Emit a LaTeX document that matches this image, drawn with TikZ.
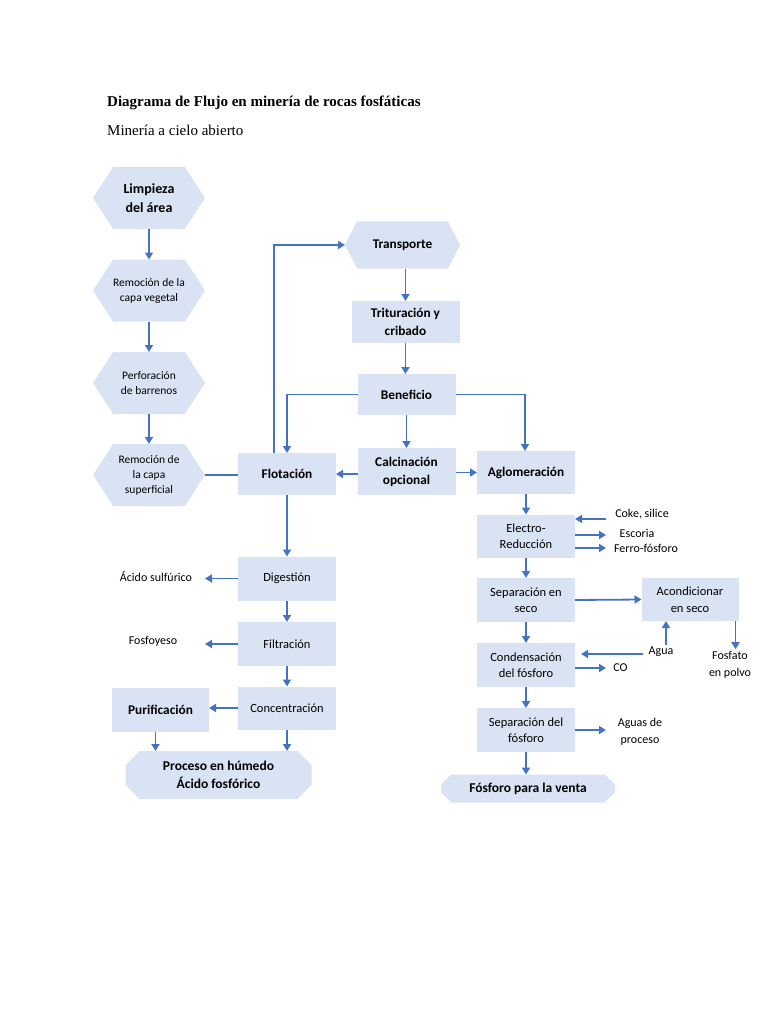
\documentclass[tikz,border=0pt]{standalone}
\usepackage{fontspec}
\usepackage{tikz}
\usetikzlibrary{arrows.meta,shapes.symbols,shapes.misc}
\setmainfont{Carlito}
\newfontfamily\titulofont{Liberation Serif}
\definecolor{cajaazul}{HTML}{DAE3F3}
\definecolor{flechaazul}{HTML}{4472C4}

\begin{document}
\begin{tikzpicture}[x=1pt,y=-1pt,
  hexa/.style={shape=signal, signal to=west and east, signal pointer angle=114, fill=cajaazul, minimum width=112pt, minimum height=62pt, inner sep=0pt, outer sep=0pt, align=center, font=\fontsize{11.5}{15}\selectfont},
  caja/.style={rectangle, fill=cajaazul, minimum width=98pt, minimum height=43pt, inner sep=2pt, outer sep=0pt, align=center, font=\fontsize{12.5}{16.5}\selectfont},
  final/.style={chamfered rectangle, fill=cajaazul, inner sep=2pt, outer sep=0pt, align=center, font=\bfseries\fontsize{13.5}{18}\selectfont},
  negrita/.style={font=\bfseries\fontsize{13.3}{18}\selectfont},
  etiqueta/.style={align=center, inner sep=2pt, font=\fontsize{12}{17}\selectfont},
  flecha/.style={draw=flechaazul, line width=1.8pt, -{Triangle[length=7pt,width=8pt]}},
  linea/.style={draw=flechaazul, line width=1.8pt}]
\useasboundingbox (0,0) rectangle (768,1024);

\node[anchor=base west, inner sep=0pt] (titulo) at (107,106.5) {\titulofont\bfseries\fontsize{15}{18}\selectfont Diagrama de Flujo en minería de rocas fosfáticas};
\node[anchor=base west, inner sep=0pt] (subtitulo) at (107,135.5) {\titulofont\fontsize{15}{18}\selectfont Minería a cielo abierto};

\node[hexa, font=\bfseries\fontsize{14}{18.5}\selectfont] (limpieza) at (149,198) {Limpieza\\del área};
\node[hexa] (remocion) at (149,290.5) {Remoción de la\\capa vegetal};
\node[hexa] (perforacion) at (149,383) {Perforación\\de barrenos};
\node[hexa] (superficial) at (149,475) {Remoción de\\la capa\\superficial};
\node[hexa, negrita, minimum width=115pt, minimum height=47pt, signal pointer angle=126] (transporte) at (402.5,245) {Transporte};

\node[caja, negrita, minimum width=108pt, minimum height=42pt] (trituracion) at (405.5,322) {Trituración y\\cribado};
\node[caja, negrita, minimum height=41pt] (beneficio) at (406.5,394.5) {Beneficio};
\node[caja, negrita, minimum height=47pt] (calcinacion) at (406.5,471.5) {Calcinación\\opcional};
\node[caja, negrita, minimum height=42pt] (flotacion) at (287,474) {Flotación};
\node[caja, negrita] (aglomeracion) at (526,472.5) {Aglomeración};
\node[caja] (electro) at (526,536) {Electro-\\Reducción};
\node[caja, minimum height=44pt] (sepseco) at (526,600) {Separación en\\seco};
\node[caja, minimum width=97pt] (acond) at (690,599.5) {Acondicionar\\en seco};
\node[caja, minimum height=44pt] (condensacion) at (526,665) {Condensación\\del fósforo};
\node[caja, minimum height=44pt] (sepfosforo) at (526,730) {Separación del\\fósforo};
\node[final, minimum width=174pt, minimum height=28pt, chamfered rectangle xsep=7pt] (venta) at (528,788.5) {Fósforo para la venta};

\node[caja, minimum height=44pt] (digestion) at (287,578.5) {Digestión};
\node[caja, minimum height=44pt] (filtracion) at (287,644) {Filtración};
\node[caja] (concentracion) at (287,708) {Concentración};
\node[caja, negrita, minimum width=97pt, minimum height=44pt] (purificacion) at (160.5,709.5) {Purificación};
\node[final, minimum width=186pt, minimum height=48pt, chamfered rectangle xsep=11pt] (humedo) at (218.5,775) {Proceso en húmedo\\Ácido fosfórico};

\node[etiqueta] (sulfurico) at (156,577) {Ácido sulfúrico};
\node[etiqueta] (fosfoyeso) at (153,641) {Fosfoyeso};
\node[etiqueta] (coke) at (642,514) {Coke, silice};
\node[etiqueta] (escoria) at (637,533) {Escoria};
\node[etiqueta] (ferro) at (646,548) {Ferro-fósforo};
\node[etiqueta] (agua) at (661,652) {Agua};
\node[etiqueta] (co) at (620.5,668) {CO};
\node[etiqueta] (fosfato) at (730,665) {Fosfato\\en polvo};
\node[etiqueta] (aguas) at (640,731.5) {Aguas de\\proceso};
\coordinate (izq) at (205,0);
\coordinate (der) at (606,0);

\draw[flecha] (limpieza.south) -- (remocion.north);
\draw[flecha] (remocion.south) -- (perforacion.north);
\draw[flecha] (perforacion.south) -- (superficial.north);
\draw[linea] (superficial.east) -- (superficial.east -| flotacion.west);
\draw[flecha] ([xshift=-13pt]flotacion.north) |- (transporte.west);
\draw[flecha] (trituracion.north |- transporte.south) -- (trituracion.north);
\draw[flecha] (trituracion.south) -- (trituracion.south |- beneficio.north);
\draw[flecha] (beneficio.west) -| (flotacion.north);
\draw[flecha] (beneficio.east) -| ([xshift=-1pt]aglomeracion.north);
\draw[flecha] (beneficio.south) -- (calcinacion.north);
\draw[flecha] (calcinacion.west |- flotacion.east) -- (flotacion.east);
\draw[flecha] (calcinacion.east |- aglomeracion.west) -- (aglomeracion.west);

\draw[flecha] (aglomeracion.south) -- (electro.north);
\draw[flecha] (electro.south) -- (sepseco.north);
\draw[flecha] (sepseco.south) -- (condensacion.north);
\draw[flecha] (condensacion.south) -- (sepfosforo.north);
\draw[flecha] (sepfosforo.south) -- (sepfosforo.south |- venta.north);
\draw[flecha] ([yshift=-5pt]coke.west -| der) -- ([yshift=-5pt]coke.west -| electro.east);
\draw[flecha] ([yshift=-2pt]escoria.west -| electro.east) -- ([yshift=-2pt]escoria.west -| der);
\draw[flecha] (ferro.west -| electro.east) -- (ferro.west -| der);
\draw[flecha] (sepseco.east) -- (acond.west);
\draw[flecha] ([xshift=5pt]agua.north) -- ([xshift=5pt]agua.north |- acond.south);
\draw[flecha] ([xshift=-3pt]acond.south east) -- ([xshift=-3pt]acond.south east |- fosfato.north);
\draw[flecha] ([xshift=-3pt,yshift=-2pt]agua.west) -- ([xshift=6pt,yshift=-2pt]agua.west -| condensacion.east);
\draw[flecha] (co.west -| condensacion.east) -- (co.west -| der);
\draw[flecha] (sepfosforo.east) -- (sepfosforo.east -| der);

\draw[flecha] (flotacion.south) -- (digestion.north);
\draw[flecha] (digestion.west) -- (digestion.west -| izq);
\draw[flecha] (filtracion.west) -- (filtracion.west -| izq);
\draw[flecha] (digestion.south) -- (filtracion.north);
\draw[flecha] (filtracion.south) -- (concentracion.north);
\draw[flecha] (concentracion.west) -- (concentracion.west -| purificacion.east);
\draw[flecha] ([xshift=-5pt]purificacion.south) -- ([xshift=-5pt]purificacion.south |- humedo.north);
\draw[flecha] (concentracion.south) -- (concentracion.south |- humedo.north);
\end{tikzpicture}
\end{document}
